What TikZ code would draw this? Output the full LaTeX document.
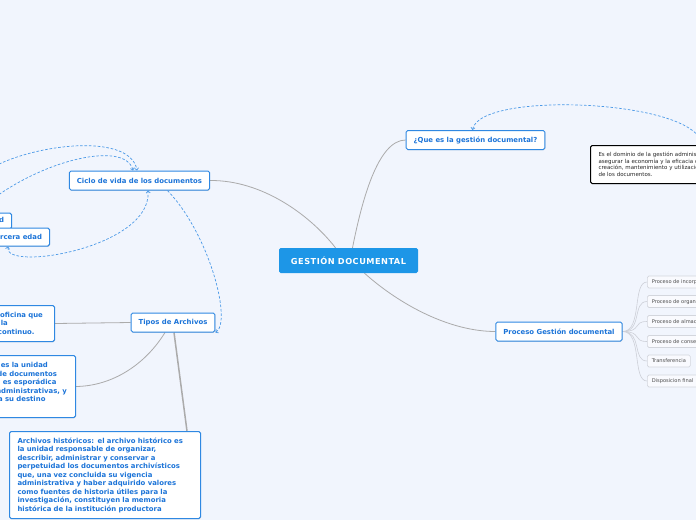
\documentclass[tikz,border=0pt]{standalone}
\usepackage{fontspec}
\setmainfont{DejaVu Sans}
\usetikzlibrary{arrows.meta,shadows}

\definecolor{cFondo}{HTML}{F1F5FD}
\definecolor{cTexto}{HTML}{1C74D8}
\definecolor{cBorde}{HTML}{2F88E2}
\definecolor{cCentro}{HTML}{1D96E7}
\definecolor{cRama}{HTML}{ABABAB}
\definecolor{cRamita}{HTML}{CDD0D8}
\definecolor{cGuion}{HTML}{4B99E7}
\definecolor{cPaso}{HTML}{D3D6DD}

\pgfdeclarelayer{fondo}
\pgfdeclarelayer{ramas}
\pgfsetlayers{fondo,ramas,main}

\tikzset{
  sombra/.style={drop shadow={shadow xshift=0.4pt,shadow yshift=-0.7pt,opacity=0.3,fill=black!60}},
  tema/.style={draw=cBorde, line width=1pt, fill=white, rounded corners=1.6pt, sombra,
    text=cTexto, font=\bfseries\fontsize{6.9}{8.5}\selectfont, inner xsep=7.5pt, inner ysep=0pt, minimum height=19pt},
  bloque/.style={tema, align=left, inner xsep=8pt},
  raiz/.style={fill=cCentro, rounded corners=1.6pt, text=white,
    font=\bfseries\fontsize{8.2}{10}\selectfont\addfontfeature{LetterSpace=6}, minimum width=139pt, minimum height=25pt},
  nota/.style={draw=black, line width=1pt, fill=white, rounded corners=1.6pt, sombra, text=black!85,
    font=\fontsize{5.5}{6.6}\selectfont, align=left, inner xsep=8pt, minimum height=38pt},
  paso/.style={draw=cPaso, line width=0.6pt, fill=white!55!cFondo, rounded corners=1.6pt, text=black!70,
    font=\fontsize{5.1}{6}\selectfont, inner xsep=4.5pt, inner ysep=0pt, minimum height=12pt},
  rama/.style={draw=cRama, line width=0.8pt},
  ramita/.style={draw=cRamita, line width=0.6pt},
  enlace/.style={draw=cGuion, line width=0.7pt, dash pattern=on 2.6pt off 1.8pt, -{Straight Barb[length=2pt,width=4pt]}},
}

\begin{document}
\begin{tikzpicture}[x=1pt,y=-1pt]
\begin{pgfonlayer}{fondo}
\fill[cFondo] (0,0) rectangle (696,520);
\end{pgfonlayer}
\useasboundingbox (0,0) rectangle (696,520);

% centro y rama derecha
\node[raiz] (gestion) at (348.5,260.5) {GESTIÓN DOCUMENTAL};
\node[tema] (quees) at (475.5,140) {¿Que es la gestión documental?};
\node[nota, text width=230pt, anchor=north west] (dominio) at (590,145)
  {Es el dominio de la gestión administrativa responsable de\\
   asegurar la economía y la eficacia de la\\
   creación, mantenimiento y utilización\\
   de los documentos.};
\node[tema] (proceso) at (559,331.5) {Proceso Gestión documental};
\node[paso, anchor=west] (incorporacion) at (647,282) {Proceso de incorporación};
\node[paso, anchor=west] (organizacion) at (647,301.5) {Proceso de organización};
\node[paso, anchor=west] (almacenamiento) at (647,321.5) {Proceso de almacenamiento};
\node[paso, anchor=west] (conservacion) at (647,341.5) {Proceso de conservación};
\node[paso, anchor=west] (transferencia) at (647,361) {Transferencia};
\node[paso, anchor=west] (disposicion) at (647,381) {Disposicion final};

% rama izquierda
\node[tema] (ciclo) at (139.5,180.5) {Ciclo de vida de los documentos};
\node[tema, anchor=east, minimum height=16pt] (segunda) at (12,221) {Segunda edad};
\node[tema, anchor=east, minimum height=18pt] (tercera) at (50,237) {Tercera edad};
\coordinate (primera) at (-20,175);
\coordinate (otraedad) at (-15,205);
\node[tema] (tipos) at (173,322.5) {Tipos de Archivos};
\node[bloque, text width=168.7pt, minimum height=36pt, anchor=north east] (archgestion) at (55,305)
  {Archivo de gestión: Archivo de oficina que\\
   reúne los documentos en uso y la\\
   dependencia, sometidos a uso continuo.};
\node[bloque, text width=132pt, minimum height=62pt, anchor=north east] (archcentral) at (76,355)
  {Archivo central: es la unidad\\
   administradora de documentos\\
   cuya consulta ya es esporádica\\
   por las oficinas administrativas, y\\
   mientras se dicta su destino\\
   final.};
\node[bloque, text width=175pt, minimum height=87pt, anchor=north west] (archhistorico) at (9,431)
  {Archivos históricos: el archivo histórico es\\
   la unidad responsable de organizar,\\
   describir, administrar y conservar a\\
   perpetuidad los documentos archivísticos\\
   que, una vez concluida su vigencia\\
   administrativa y haber adquirido valores\\
   como fuentes de historia útiles para la\\
   investigación, constituyen la memoria\\
   histórica de la institución productora};

% conectores
\begin{pgfonlayer}{ramas}
\draw[rama] ([xshift=-13pt]gestion.north) .. controls (310,215) and (262,180) .. (ciclo.east);
\draw[rama] ([xshift=4pt]gestion.north) .. controls (362,200) and (378,140) .. (quees.west);
\draw[rama] ([xshift=16pt]gestion.south) .. controls (400,305) and (450,331.5) .. (proceso.west);
\draw[ramita] (proceso.east) .. controls +(20,0) and +(-15,0) .. (incorporacion.west);
\draw[ramita] (proceso.east) .. controls +(20,0) and +(-15,0) .. (organizacion.west);
\draw[ramita] (proceso.east) .. controls +(20,0) and +(-15,0) .. (almacenamiento.west);
\draw[ramita] (proceso.east) .. controls +(20,0) and +(-15,0) .. (conservacion.west);
\draw[ramita] (proceso.east) .. controls +(20,0) and +(-15,0) .. (transferencia.west);
\draw[ramita] (proceso.east) .. controls +(20,0) and +(-15,0) .. (disposicion.west);
\draw[rama] (tipos.west) -- (archgestion.east);
\draw[rama] ([xshift=-8pt]tipos.south) .. controls (145,365) and (112,386) .. (archcentral.east);
\draw[rama, line width=1.5pt] ([xshift=1pt]tipos.south) -- ([xshift=-14pt]archhistorico.north east);
\end{pgfonlayer}

\draw[enlace] ([xshift=-12pt]dominio.north) .. controls (700,100) and (480,90) .. ([xshift=-3pt]quees.north);
\draw[enlace] (primera) .. controls (20,145) and (130,130) .. ([xshift=-2.5pt]ciclo.north);
\draw[enlace] (otraedad) .. controls (40,160) and (125,140) .. ([xshift=-6.5pt]ciclo.north);
\draw[enlace, {Straight Barb[length=2pt,width=4pt]}-{Straight Barb[length=2pt,width=4pt]}]
  ([xshift=-42pt]tercera.south east) .. controls (3,272) and (152,248) .. ([xshift=8.5pt]ciclo.south);
\draw[enlace] ([xshift=28pt]ciclo.south) .. controls (210,235) and (232,322) .. (tipos.south east);
\end{tikzpicture}
\end{document}
